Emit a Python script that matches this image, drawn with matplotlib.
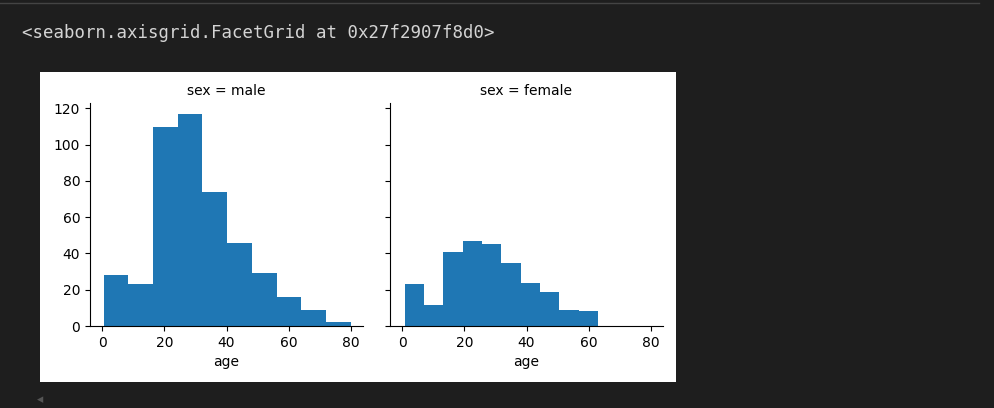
import matplotlib
matplotlib.use("Agg")
import matplotlib.pyplot as plt
import numpy as np
from matplotlib.patches import Rectangle
from matplotlib.lines import Line2D

male_counts = [28, 23, 110, 117, 74, 46, 29, 16, 9, 2]
female_counts = [23, 11.5, 41, 47, 45, 35, 23.5, 18.6, 9, 8]
male_range = (0.42, 80.0)
female_range = (0.75, 63.0)
titles = ["sex = male", "sex = female"]

fig = plt.figure(figsize=(9.94, 4.08), dpi=100, facecolor="#1e1e1e")
fig.add_artist(Line2D([0, 0.985], [0.993, 0.993], color="#444444", lw=1))
fig.text(22/994, 1-33/408, "<seaborn.axisgrid.FacetGrid at 0x27f2907f8d0>",
         color="#d4d4d4", family="DejaVu Sans Mono", fontsize=12.5, va="center")
fig.text(37/994, 1-400/408, "◂", color="#555555", fontsize=9, va="center")
fig.add_artist(Rectangle((40/994, 26/408), 636/994, 310/408, facecolor="white",
                         edgecolor="none", transform=fig.transFigure, zorder=0))

axw, axh, bot = 273/994, 223/408, 82/408
ax1 = fig.add_axes([90/994, bot, axw, axh])
ax2 = fig.add_axes([390/994, bot, axw, axh], sharey=ax1)
for ax, counts, rng, t in [(ax1, male_counts, male_range, titles[0]),
                           (ax2, female_counts, female_range, titles[1])]:
    edges = np.linspace(rng[0], rng[1], len(counts) + 1)
    ax.hist(edges[:-1], bins=edges, weights=counts, color="#1f77b4")
    ax.set_xlim(-4, 84)
    ax.set_ylim(0, 123)
    ax.set_xticks([0, 20, 40, 60, 80])
    ax.set_xlabel("age", fontsize=10)
    ax.set_title(t, fontsize=10)
    ax.spines["top"].set_visible(False)
    ax.spines["right"].set_visible(False)
    ax.tick_params(labelsize=10)
ax1.set_yticks([0, 20, 40, 60, 80, 100, 120])
ax2.tick_params(labelleft=False)
fig.savefig("out.png", dpi=100, facecolor=fig.get_facecolor())
